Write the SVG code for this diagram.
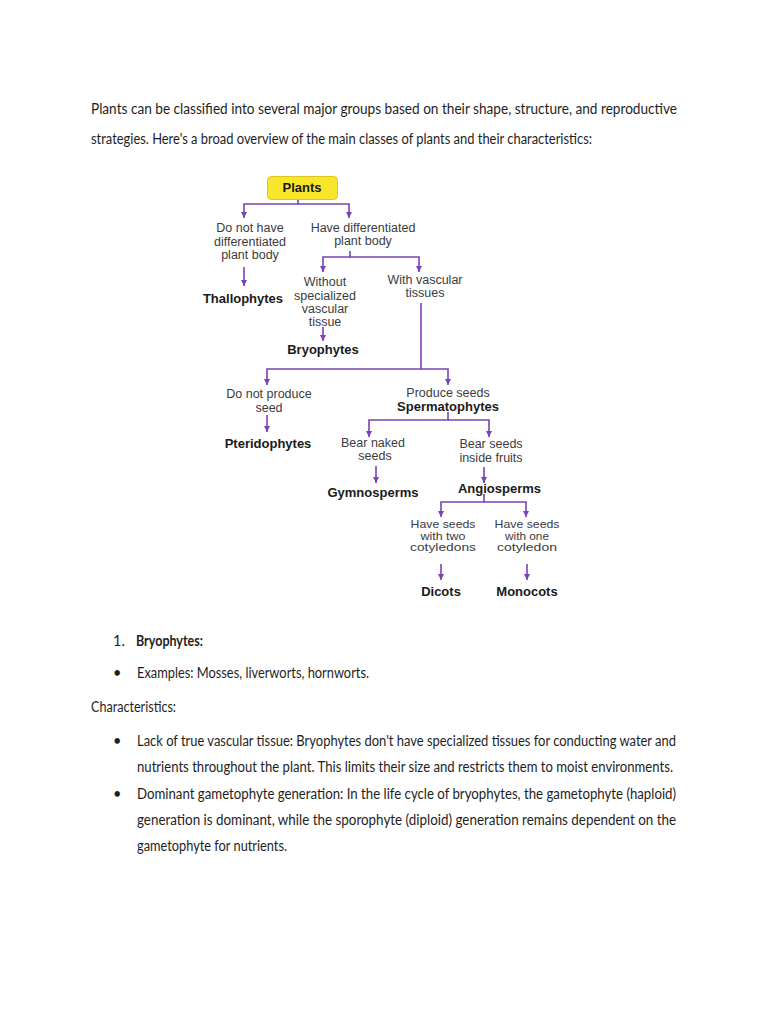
<svg xmlns="http://www.w3.org/2000/svg" width="768" height="1024" viewBox="0 0 768 1024">
<style>
.body{font-family:Lato,"Open Sans",sans-serif;font-size:14.5px;fill:#1e1e1e}
.bb{font-weight:bold}
.lbl{font-family:"Liberation Sans",Arial,sans-serif;font-size:12.5px;fill:#3c3c3c;text-anchor:middle}
.cot{font-size:11px}
.bold{font-family:"Liberation Sans",Arial,sans-serif;font-size:13px;font-weight:bold;fill:#1a1a1a;text-anchor:middle}
.ln{fill:none;stroke:#7a42b6;stroke-width:1.6}
.ar{marker-end:url(#ah)}
</style>
<defs>
<marker id="ah" markerUnits="userSpaceOnUse" markerWidth="7" markerHeight="7" refX="6" refY="3" orient="auto">
<path d="M0,0 L6,3 L0,6 z" fill="#7a42b6"/>
</marker>
</defs>
<rect width="768" height="1024" fill="#ffffff"/>

<g id="intro">
<text class="body" x="91" y="114" textLength="586" lengthAdjust="spacingAndGlyphs">Plants can be classified into several major groups based on their shape, structure, and reproductive</text>
<text class="body" x="91" y="144" textLength="501" lengthAdjust="spacingAndGlyphs">strategies. Here's a broad overview of the main classes of plants and their characteristics:</text>
</g>

<g id="connectors">
<path class="ln ar" d="M298,199 V204 H244 V218"/>
<path class="ln ar" d="M298,204 H349 V218"/>
<path class="ln ar" d="M244,267 V286"/>
<path class="ln ar" d="M350,251 V257 H323 V272"/>
<path class="ln ar" d="M350,257 H419 V272"/>
<path class="ln ar" d="M323,327 V341"/>
<path class="ln ar" d="M421,303 V369 H267 V385"/>
<path class="ln ar" d="M421,369 H448 V385"/>
<path class="ln ar" d="M267,415 V432"/>
<path class="ln ar" d="M448,412 V420 H369 V437"/>
<path class="ln ar" d="M448,420 H489 V437"/>
<path class="ln ar" d="M376,466 V483"/>
<path class="ln ar" d="M484,467 V483"/>
<path class="ln ar" d="M484,494 V502 H441 V517"/>
<path class="ln ar" d="M484,502 H526 V517"/>
<path class="ln ar" d="M441,564 V580"/>
<path class="ln ar" d="M527,564 V580"/>
</g>

<g id="plants">
<rect x="267.5" y="176.5" width="70" height="23" rx="4" fill="#f7e629" stroke="#dcc61c" stroke-width="1"/>
<text class="bold" x="302" y="192">Plants</text>
</g>
<g id="no-diff">
<text class="lbl" x="250" y="231.5">Do not have</text>
<text class="lbl" x="250" y="245.5">differentiated</text>
<text class="lbl" x="250" y="258.5">plant body</text>
</g>
<g id="have-diff">
<text class="lbl" x="363" y="231.5">Have differentiated</text>
<text class="lbl" x="363" y="244.5">plant body</text>
</g>
<g id="thallophytes">
<text class="bold" x="243" y="302.5">Thallophytes</text>
</g>
<g id="without-vascular">
<text class="lbl" x="325" y="285.5">Without</text>
<text class="lbl" x="325" y="299.5">specialized</text>
<text class="lbl" x="325" y="312.5">vascular</text>
<text class="lbl" x="325" y="325.5">tissue</text>
</g>
<g id="with-vascular">
<text class="lbl" x="425" y="283.5">With vascular</text>
<text class="lbl" x="425" y="296.5">tissues</text>
</g>
<g id="bryophytes">
<text class="bold" x="323" y="353.5">Bryophytes</text>
</g>
<g id="no-seed">
<text class="lbl" x="269" y="397.5">Do not produce</text>
<text class="lbl" x="269" y="411.5">seed</text>
</g>
<g id="pteridophytes">
<text class="bold" x="268" y="447.5">Pteridophytes</text>
</g>
<g id="spermatophytes">
<text class="lbl" x="448" y="396.5">Produce seeds</text>
<text class="bold" x="448" y="410.5">Spermatophytes</text>
</g>
<g id="naked-seeds">
<text class="lbl" x="373" y="447">Bear naked</text>
<text class="lbl" x="375" y="459.5">seeds</text>
</g>
<g id="inside-fruits">
<text class="lbl" x="491" y="447.5">Bear seeds</text>
<text class="lbl" x="491" y="461.5">inside fruits</text>
</g>
<g id="gymnosperms">
<text class="bold" x="373" y="496.5">Gymnosperms</text>
</g>
<g id="angiosperms">
<text class="bold" x="499.5" y="492.5">Angiosperms</text>
</g>
<g id="two-cotyledons">
<text class="lbl cot" x="443" y="528" textLength="65" lengthAdjust="spacingAndGlyphs">Have seeds</text>
<text class="lbl cot" x="443" y="539.5" textLength="45" lengthAdjust="spacingAndGlyphs">with two</text>
<text class="lbl cot" x="443" y="551" textLength="66" lengthAdjust="spacingAndGlyphs">cotyledons</text>
</g>
<g id="one-cotyledon">
<text class="lbl cot" x="527" y="528" textLength="65" lengthAdjust="spacingAndGlyphs">Have seeds</text>
<text class="lbl cot" x="527" y="539.5" textLength="44" lengthAdjust="spacingAndGlyphs">with one</text>
<text class="lbl cot" x="527" y="551" textLength="60" lengthAdjust="spacingAndGlyphs">cotyledon</text>
</g>
<g id="dicots">
<text class="bold" x="441" y="595.5">Dicots</text>
</g>
<g id="monocots">
<text class="bold" x="527" y="595.5">Monocots</text>
</g>

<g id="details">
<text class="body" x="113" y="646">1.</text>
<text class="body bb" x="136" y="646" textLength="67" lengthAdjust="spacingAndGlyphs">Bryophytes:</text>
<text class="body" x="113" y="678">•</text>
<text class="body" x="137" y="678" textLength="232" lengthAdjust="spacingAndGlyphs">Examples: Mosses, liverworts, hornworts.</text>
<text class="body" x="91" y="712" textLength="85" lengthAdjust="spacingAndGlyphs">Characteristics:</text>
<text class="body" x="113" y="746">•</text>
<text class="body" x="137" y="746" textLength="539" lengthAdjust="spacingAndGlyphs">Lack of true vascular tissue: Bryophytes don't have specialized tissues for conducting water and</text>
<text class="body" x="137" y="772" textLength="536" lengthAdjust="spacingAndGlyphs">nutrients throughout the plant. This limits their size and restricts them to moist environments.</text>
<text class="body" x="113" y="799">•</text>
<text class="body" x="137" y="799" textLength="539" lengthAdjust="spacingAndGlyphs">Dominant gametophyte generation: In the life cycle of bryophytes, the gametophyte (haploid)</text>
<text class="body" x="137" y="825" textLength="539" lengthAdjust="spacingAndGlyphs">generation is dominant, while the sporophyte (diploid) generation remains dependent on the</text>
<text class="body" x="137" y="851" textLength="150" lengthAdjust="spacingAndGlyphs">gametophyte for nutrients.</text>
</g>
</svg>
